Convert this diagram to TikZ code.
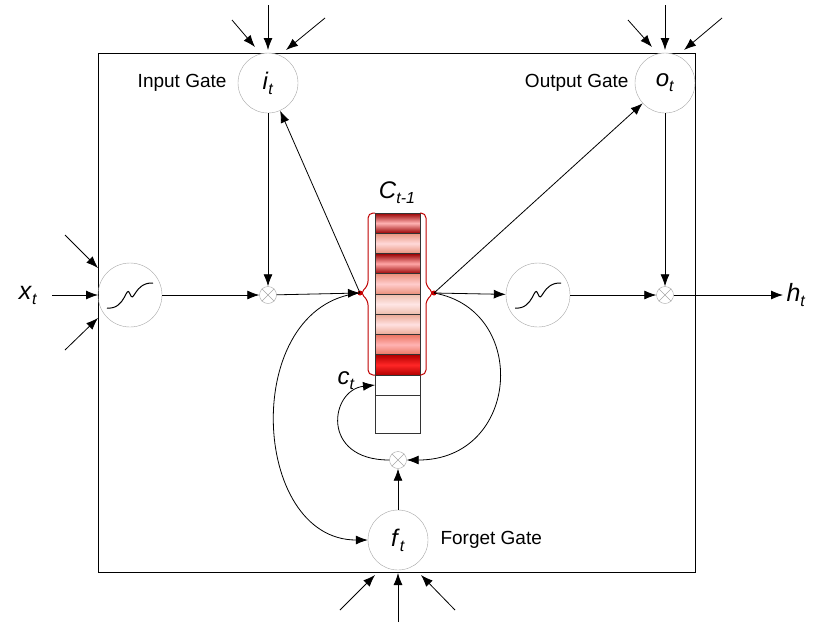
\documentclass[tikz,border=0pt]{standalone}
\usepackage{fontspec}
\setmainfont{Liberation Sans}
\usetikzlibrary{arrows.meta}
\newcommand{\vsub}[2]{\textit{#1}\raisebox{-0.2em}{\fontsize{16}{16}\selectfont\textit{#2}}}
\begin{document}
\begin{tikzpicture}[x=1pt,y=-1pt,
  gate/.style={draw=gray!70,circle,minimum size=60pt,inner sep=0pt,font=\fontsize{24}{24}\selectfont},
  sq/.style={draw=gray!70,circle,minimum size=64pt,inner sep=0pt},
  mul/.style={draw=gray!70,circle,minimum size=17pt,inner sep=0pt},
  arr/.style={-{Latex[length=12pt,width=9pt]},line width=0.8pt},
  lbl/.style={font=\fontsize{19}{19}\selectfont},
  cell/.style={draw=black!80,line width=0.6pt}]
\useasboundingbox (0,0) rectangle (818,627);
\draw[line width=0.8pt] (98,53) rectangle (695,572);
% gates
\node[gate,fill=white] (ig) at (268,83) {\vsub{i}{t}};
\node[gate,fill=white] (og) at (665,83) {\vsub{o}{t}};
\node[gate,fill=white] (fg) at (398,540) {\vsub{f}{t}};
\node[lbl,anchor=east] at (230,83) {Input Gate};
\node[lbl,anchor=east] at (632,83) {Output Gate};
\node[lbl,anchor=west] at (437,540) {Forget Gate};
% squash
\node[sq] (s1) at (130,295) {};
\node[sq] (s2) at (538,295) {};
\foreach \c in {s1,s2}{\draw[line width=1pt] ([shift={(-23,13)}]\c.center) .. controls ([shift={(-4,15)}]\c.center) and ([shift={(-4,-12)}]\c.center) .. ([shift={(0,-1)}]\c.center) .. controls ([shift={(4,10)}]\c.center) and ([shift={(4,-13)}]\c.center) .. ([shift={(23,-12)}]\c.center);}
% multipliers
\foreach \n/\p in {m1/{(268,295)},m2/{(665,295)},m3/{(398,460)}}{
  \node[mul] (\n) at \p {};
  \draw[gray!70] (\n.north west)--(\n.south east) (\n.north east)--(\n.south west);}
% cell
\foreach \i/\tc/\mc in {0/red!60!black/red!30!white,1/red!40!brown!60/red!15,2/red!60!black/red!35,3/red!45!brown!60/red!20,4/red!30!brown!40/red!10,5/red!35!brown!50/red!12,6/red!55!brown!70/red!30,7/red!70!black/red!85}{
  \shade[top color=\tc,bottom color=\tc,middle color=\mc] (375,{213+20.25*\i}) rectangle (420,{213+20.25*(\i+1)});
  \draw[cell] (375,{213+20.25*\i}) rectangle (420,{213+20.25*(\i+1)});}
\draw[cell,fill=white] (375,375) rectangle (420,395);
\draw[cell,fill=white] (375,395) rectangle (420,433);
\draw[red!75!black,line width=1pt,rounded corners=5pt] (375,213) -- (368,213) -- (368,286) -- (360,293) -- (368,300) -- (368,375) -- (375,375);
\draw[red!75!black,line width=1pt,rounded corners=5pt] (420,213) -- (426,213) -- (426,286) -- (434,293) -- (426,300) -- (426,375) -- (420,375);
\fill[red!80!black] (360,293) circle (2.5pt);
\fill[red!80!black] (434,293) circle (2.5pt);
\coordinate (dl) at (360,293); \coordinate (dr) at (434,293);
\node[font=\fontsize{24}{24}\selectfont] (cl) at (397,193) {\vsub{C}{t-1}};
\node[font=\fontsize{24}{24}\selectfont] (ct) at (346,381) {\vsub{c}{t}};
\coordinate (cc) at (375,385);
% labels in/out
\node[font=\fontsize{25}{25}\selectfont] (x) at (28,295) {\vsub{x}{t}};
\node[font=\fontsize{25}{25}\selectfont] (h) at (796,295) {\vsub{h}{t}};
% outside arrows
\draw[arr] (52,295) -- (98,295);
\draw[arr] (65,235) -- (98,268);
\draw[arr] (65,350) -- (98,318);
\draw[arr] (232,20) -- (255,47);
\draw[arr] (268,5) -- (268,50);
\draw[arr] (325,18) -- (286,50);
\draw[arr] (628,20) -- (652,47);
\draw[arr] (665,5) -- (665,50);
\draw[arr] (722,18) -- (684,50);
\draw[arr] (340,610) -- (375,575);
\draw[arr] (398,622) -- (398,573);
\draw[arr] (455,610) -- (421,575);
% internal
\draw[arr] (s1) -- (m1);
\draw[arr] (ig) -- (m1);
\draw[arr] (m1) -- (dl);
\draw[arr] (dl) -- (ig);
\draw[arr] (dr) -- (og);
\draw[arr] (dr) -- (s2);
\draw[arr] (s2) -- (m2);
\draw[arr] (og) -- (m2);
\draw[arr] (m2) -- (h);
\draw[arr] (dl) .. controls (240,305) and (250,540) .. (fg);
\draw[arr] (dr) .. controls (530,310) and (520,460) .. (m3);
\draw[arr] (m3) .. controls (320,460) and (330,390) .. (cc);
\draw[arr] (fg) -- (m3);
\end{tikzpicture}
\end{document}
